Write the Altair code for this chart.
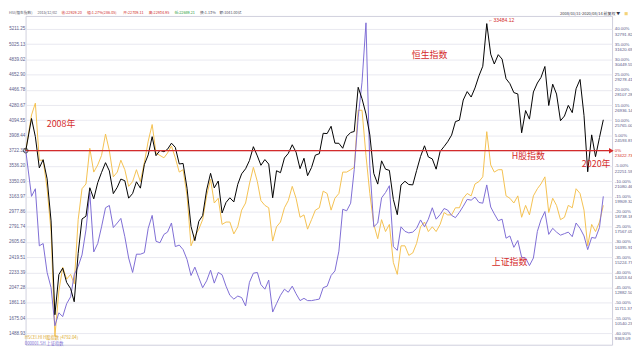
import altair as alt
import pandas as pd

# ---------------- data ----------------
START = "2008-03-01"
MONTH_DATES = [f"{y}-{m:02d}-15" for y in range(2008, 2021) for m in range(1, 13)
               if (2008, 4) <= (y, m) <= (2020, 7)]
DATES = [START] + MONTH_DATES  # 149 points

HSI_BASE = 23422.73
HSCEI_BASE = 12800.0
SH_BASE = 4000.0

# black : 恒生指数
HSI = [23422.73,
       25900, 24500, 22100, 22730, 21260, 18020, 10800, 13890, 14390,
       13280, 12810, 11800, 15520, 18170, 18380, 20570, 19720, 20960, 21750, 22500, 21870,
       20120, 20610, 21240, 21110, 19770, 20130, 21030, 20540, 22360, 23100, 24500, 23040,
       23450, 23340, 23530, 24000, 23680, 22400, 22440, 20530, 17590, 16500, 17990, 18430,
       20390, 21680, 20560, 21090, 18630, 19440, 19800, 19480, 20840, 21640, 22030, 22660,
       23730, 23020, 22300, 22740, 22390, 19800, 21880, 21730, 22860, 23210, 23880, 23310,
       22040, 22840, 21500, 22130, 23080, 23190, 24760, 24740, 25300, 24000, 23990, 23610,
       24510, 24820, 24900, 28300, 27420, 26250, 24640, 21670, 20850, 22640, 22000, 21910,
       19680, 18500, 20780, 21070, 20820, 20790, 21890, 22980, 23800, 22940, 22790, 22000,
       23360, 23740, 24110, 24620, 25660, 25770, 27320, 27970, 27550, 28250, 29180, 29920,
       33200, 30850, 30090, 30810, 30470, 28960, 28580, 27890, 27790, 24800, 26510, 25850,
       27940, 28630, 29050, 29900, 26900, 28540, 27780, 25730, 26090, 26910, 26350, 28190,
       28900, 26130, 21800, 24640, 22960, 24430, 25800]

# yellow : H股指数
HSCEI = [12800,
         14300, 14800, 12400, 12400, 11200, 9400, 5000, 6900, 7900,
         7400, 7600, 7200, 9900, 11200, 11400, 12900, 11900, 12200, 12600, 13500, 12800,
         11700, 11900, 12400, 12000, 11300, 11500, 12000, 11500, 12300, 13200, 13900, 12700,
         12600, 12500, 12700, 13000, 12500, 11900, 12000, 10900, 8800, 9200, 9500, 9900,
         10900, 11600, 10600, 10800, 9700, 9800, 9800, 9300, 9600, 10300, 10600, 11400,
         12100, 11500, 10700, 10500, 10400, 9000, 9600, 9800, 10400, 10700, 11300, 10800,
         10000, 10100, 9500, 9900, 10300, 10400, 11100, 11000, 10300, 10800, 11000, 11900,
         11900, 12000, 12100, 14500, 14500, 12600, 11000, 9700, 9100, 9900, 9400, 9700,
         8100, 7600, 8800, 8800, 8400, 8500, 8900, 9600, 9800, 9400, 9600, 9400,
         9700, 10200, 10100, 10100, 10400, 10400, 10800, 11000, 10900, 11400, 11500, 11700,
         13600, 12200, 11900, 12000, 12000, 10900, 10800, 10600, 10900, 10000, 10500, 10100,
         10900, 11200, 11400, 11700, 10200, 10800, 10500, 9900, 10000, 10500, 10400, 11200,
         11000, 10300, 8800, 9700, 9400, 9800, 10500]

# purple : 上证指数
SH = [4000,
      3400, 3500, 2750, 2780, 2400, 2200, 1700, 1870, 1820,
      1990, 2080, 2370, 2480, 2630, 2960, 3450, 2670, 2780, 3000, 3250, 3280,
      2990, 3050, 3110, 2870, 2590, 2400, 2640, 2640, 2660, 2980, 3150, 2810,
      2790, 2900, 2930, 3050, 2740, 2760, 2700, 2570, 2360, 2470, 2330, 2200,
      2290, 2430, 2260, 2400, 2370, 2220, 2100, 2050, 2090, 2070, 1960, 2270,
      2390, 2400, 2240, 2180, 2300, 1880, 1990, 2100, 2180, 2140, 2220, 2120,
      2030, 2060, 2030, 2030, 2040, 2050, 2200, 2220, 2360, 2420, 2680, 3230,
      3210, 3310, 3750, 4440, 4900, 5680, 3800, 3000, 3050, 3380, 3450, 3540,
      2740, 2690, 3000, 2940, 2920, 2930, 2980, 3090, 3000, 3100, 3250, 3100,
      3160, 3240, 3220, 3150, 3120, 3190, 3270, 3360, 3350, 3390, 3320, 3310,
      3550, 3260, 3170, 3080, 3100, 2850, 2880, 2730, 2820, 2600, 2590, 2490,
      2590, 2940, 3090, 3200, 2900, 2980, 2930, 2890, 2910, 2930, 2870, 3050,
      2980, 2880, 2700, 2860, 2850, 2990, 3400]

Y_TICKS = [40, 35, 30, 25, 20, 15, 10, 5, 0, -5, -10, -15, -20, -25, -30, -35, -40, -45, -50, -55, -60]
LEFT_LABELS = ["5211.25", "5025.13", "4839.02", "4652.90", "4466.78", "4280.67", "4094.55",
               "3908.44", "3722.32", "3536.20", "3350.09", "3163.97", "2977.86", "2791.74",
               "2605.62", "2419.51", "2233.39", "2047.28", "1861.16", "1675.04", "1488.93"]
RIGHT_PCT = ["40.00%", "35.00%", "30.00%", "25.00%", "20.00%", "15.00%", "10.00%", "5.00%",
             "0%", "-5.00%", "-10.00%", "-15.00%", "-20.00%", "-25.00%", "-30.00%", "-35.00%",
             "-40.00%", "-45.00%", "-50.00%", "-55.00%", "-60.00%"]
RIGHT_VAL = ["32791.82", "31620.69", "30449.55", "29278.41", "28107.28", "26936.14", "25765.00",
             "24593.87", "23422.73", "22251.59", "21080.46", "19909.32", "18738.18", "17567.05",
             "16395.91", "15224.77", "14053.64", "12882.50", "11711.37", "10540.23", "9369.09"]

ANN_TEXT = ["2008年", "恒生指数", "H股指数", "上证指数", "2020年"]
ANN_DATE = ["2008-12-02", "2016-10-25", "2018-12-06", "2018-07-12", "2020-05-20"]
ANN_PCT = [8.6, 31.4, -1.6, -36.5, -4.5]

HEADER_LEFT = ["HSI(恒生指数)", "2015/12/02", "收:22929.20", "幅:1.27%(286.05)", "开:22709.11",
               "高:22934.95", "低:22689.21", "换:1.13%", "额:1041.00亿"]
HEADER_COLORS = ["#555566", "#555566", "#d03030", "#d03030", "#d03030", "#d03030", "#279a3a",
                 "#555566", "#555566"]

# ---------------- build ----------------
BLACK, YELLOW, PURPLE, RED = "#000000", "#f4c150", "#7e6dd4", "#d42b2b"

df = pd.DataFrame({"date": pd.to_datetime(DATES)})
df["HSI"] = [(v / HSI_BASE - 1) * 100 for v in HSI]
df["HSCEI"] = [(v / HSCEI_BASE - 1) * 100 for v in HSCEI]
df["SH"] = [(v / SH_BASE - 1) * 100 for v in SH]
long = df.melt("date", var_name="s", value_name="pct")

W, H = 594, 333
xscale = alt.Scale(domain=[alt.DateTime(year=2008, month=3, date=1),
                           alt.DateTime(year=2020, month=9, date=23)])
yscale = alt.Scale(domain=[-63.8, 44.2], nice=False, zero=False)

tick_dates = [alt.DateTime(year=y, month=m, date=1) for y in range(2008, 2021) for m in (3, 7, 11)
              if (y, m) <= (2020, 7)]

left_expr = "[" + ",".join(f"'{s}'" for s in LEFT_LABELS) + "][(40 - datum.value) / 5]"
right_expr = "[" + ",".join(f"['{p}','{v}']" for p, v in zip(RIGHT_PCT, RIGHT_VAL)) + "][(40 - datum.value) / 5]"

GRID = "#e3e3ec"
LBL = "#5c5c8a"

x_axis = alt.Axis(values=tick_dates, labelExpr="timeFormat(datum.value, '%y.%m')", grid=True,
                  gridColor=GRID, gridWidth=0.8, ticks=False, domain=False, labelFontSize=4.8,
                  labelColor=LBL, labelPadding=1.5, title=None, labelAlign="center",
                  labelFont="Liberation Sans")
left_axis = alt.Axis(values=Y_TICKS, labelExpr=left_expr, grid=True, gridColor=GRID,
                     gridWidth=0.8, ticks=False, domain=False, labelFontSize=4.6,
                     labelColor=LBL, labelPadding=1, title=None, labelFont="Liberation Sans")
right_axis = alt.Axis(orient="right", values=Y_TICKS, labelExpr=right_expr, grid=False,
                      ticks=False, domain=False, labelFontSize=4.4, labelLineHeight=5.2,
                      labelColor=alt.condition("datum.value == 0", alt.value(RED), alt.value(LBL)),
                      labelPadding=2, title=None, labelFont="Liberation Sans")

base = alt.Chart(long)


def series(name, color, xa=None, ya=None):
    return base.transform_filter(f"datum.s == '{name}'").mark_line(
        color=color, strokeWidth=1).encode(
        x=alt.X("date:T", scale=xscale, axis=xa),
        y=alt.Y("pct:Q", scale=yscale, axis=ya))


yellow = series("HSCEI", YELLOW, x_axis, left_axis)
purple = series("SH", PURPLE)
black = series("HSI", BLACK)
right_dummy = base.transform_filter("datum.s == 'HSI'").mark_line(opacity=0).encode(
    x=alt.X("date:T", scale=xscale, axis=None),
    y=alt.Y("pct:Q", scale=yscale, axis=right_axis))

zero = pd.DataFrame({"v": [0]})
rule = alt.Chart(zero).mark_rule(color=RED, strokeWidth=1.3).encode(
    y=alt.Y("v:Q", scale=yscale, axis=None))

mk = pd.DataFrame({"date": pd.to_datetime([START, "2020-09-16"]), "v": [0, 0]})
start_pt = alt.Chart(mk.iloc[[0]]).mark_point(shape="circle", filled=False, color="#222222",
                                              size=22, strokeWidth=1).encode(
    x=alt.X("date:T", scale=xscale, axis=None), y=alt.Y("v:Q", scale=yscale, axis=None))
arrow = alt.Chart(mk.iloc[[1]]).mark_point(shape="triangle-right", filled=True, color=RED,
                                           size=30, opacity=1).encode(
    x=alt.X("date:T", scale=xscale, axis=None), y=alt.Y("v:Q", scale=yscale, axis=None))

ann = pd.DataFrame({"date": pd.to_datetime(ANN_DATE), "pct": ANN_PCT, "t": ANN_TEXT})
ann_layer = alt.Chart(ann).mark_text(color=RED, fontSize=9, font="Noto Sans CJK SC").encode(
    x=alt.X("date:T", scale=xscale, axis=None), y=alt.Y("pct:Q", scale=yscale, axis=None),
    text="t:N")

peak = pd.DataFrame({"date": pd.to_datetime(["2018-01-20"]), "pct": [(33484.12 / HSI_BASE - 1) * 100],
                     "t": ["⌐ 33484.12"]})
peak_layer = alt.Chart(peak).mark_text(color=RED, fontSize=5, align="left", dx=2,
                                       font="Liberation Sans").encode(
    x=alt.X("date:T", scale=xscale, axis=None), y=alt.Y("pct:Q", scale=yscale, axis=None),
    text="t:N")


def text_w(s, fs):
    return sum(fs if ord(c) > 0x2E80 else 0.56 * fs for c in s)


one = pd.DataFrame({"k": [0]})
extras = []
HFS = 3.8
hx = -17
for txt, col in zip(HEADER_LEFT, HEADER_COLORS):
    extras.append(alt.Chart(one).mark_text(align="left", baseline="middle", fontSize=HFS,
                                           font="Noto Sans CJK SC", color=col).encode(
        x=alt.value(hx), y=alt.value(-3), text=alt.value(txt)))
    hx += text_w(txt, HFS) + 3
extras.append(alt.Chart(one).mark_text(align="right", baseline="middle", fontSize=4,
                                       font="Noto Sans CJK SC", color="#334").encode(
    x=alt.value(602), y=alt.value(-2.5), text=alt.value("2008/03/31-2020/08/14 前复权 ▼")))
extras.append(alt.Chart(one).mark_square(color="#f0c040", size=10).encode(
    x=alt.value(608), y=alt.value(-2.5)))
extras.append(alt.Chart(one).mark_text(align="left", baseline="middle", fontSize=4.3,
                                       font="Noto Sans CJK SC", color="#d9a520").encode(
    x=alt.value(-1), y=alt.value(326), text=alt.value("HSCEI.HI H股指数 (4792.04)")))
extras.append(alt.Chart(one).mark_text(align="left", baseline="middle", fontSize=4.3,
                                       font="Noto Sans CJK SC", color=PURPLE).encode(
    x=alt.value(-1), y=alt.value(332), text=alt.value("000001.SH 上证指数")))

chart = alt.layer(yellow, purple, black, right_dummy, rule, start_pt, arrow, ann_layer,
                  peak_layer, *extras).resolve_axis(y="independent").properties(
    width=W, height=H,
    padding={"left": 18, "top": 6, "right": 20, "bottom": 9},
    autosize=alt.AutoSizeParams(type="none"),
    background="white",
).configure_view(stroke="#c4c4d4", strokeWidth=0.8)

chart.save("out.html", embed_options={"renderer": "svg", "actions": False})
